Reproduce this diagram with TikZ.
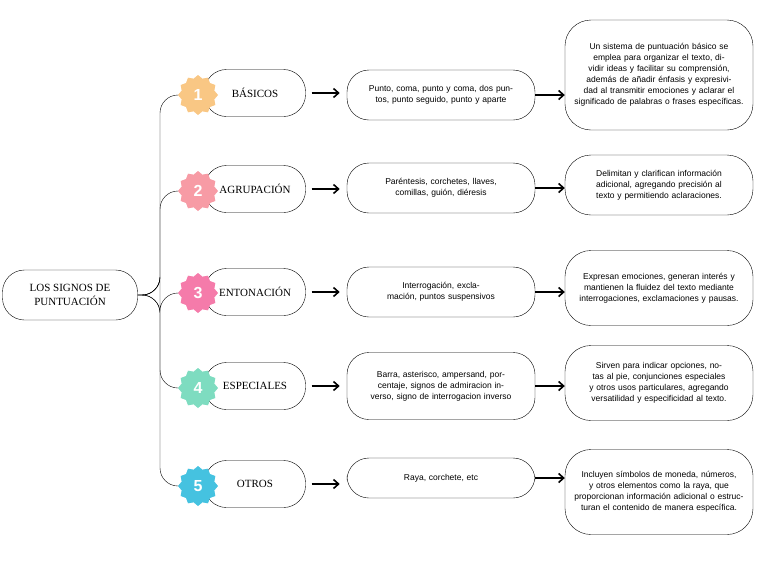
\documentclass[tikz,border=0pt]{standalone}
\usepackage{fontspec}
\setmainfont{Liberation Serif}
\newfontfamily\bodyfont{Liberation Sans}
\usetikzlibrary{shapes.geometric,arrows.meta}
\definecolor{bOne}{HTML}{F9C784}
\definecolor{bTwo}{HTML}{F79BA5}
\definecolor{bThree}{HTML}{F57BAA}
\definecolor{bFour}{HTML}{7EDCC0}
\definecolor{bFive}{HTML}{45C2E0}

\begin{document}
\begin{tikzpicture}[
      x=1pt, y=-1pt,
      cat/.style = {
        draw=black,
        rounded corners=22pt,
        minimum width=101pt,
        minimum height=47pt,
        font=\fontsize{11}{13}\selectfont,
      },
      mid/.style = {
        draw=black,
        rounded corners=22pt,
        minimum width=188pt,
        text width=160pt,
        align=center,
        font=\bodyfont\fontsize{8.5}{11}\selectfont,
      },
      info/.style = {
        draw=black,
        rounded corners=26pt,
        minimum width=188pt,
        text width=170pt,
        align=center,
        font=\bodyfont\fontsize{8.5}{11}\selectfont,
      },
      badge/.style = {
        star, star points=12, star point ratio=1.18,
        minimum size=40pt, inner sep=0pt,
        text=white,
        font=\bodyfont\bfseries\fontsize{16}{16}\selectfont,
      },
      arr/.style = {
        draw=black,
        line width=1.6pt,
        ->, >={Straight Barb[length=5pt,width=9pt]},
      },
    ]
      \useasboundingbox (0,0) rectangle (768,576);
      \node[cat, minimum width=135pt, minimum height=50pt, align=center,
        font=\fontsize{11}{14}\selectfont] (root) at (70,295) {LOS SIGNOS DE\\PUNTUACIÓN};

      \node[cat] (c1) at (255,93) {BÁSICOS};
      \node[cat] (c2) at (255,189) {AGRUPACIÓN};
      \node[cat] (c3) at (255,292) {ENTONACIÓN};
      \node[cat] (c4) at (255,386) {ESPECIALES};
      \node[cat] (c5) at (255,484) {OTROS};

      \node[badge, fill=bOne] (b1) at (198,95) {1};
      \node[badge, fill=bTwo] (b2) at (198,191) {2};
      \node[badge, fill=bThree] (b3) at (198,293) {3};
      \node[badge, fill=bFour] (b4) at (198,388) {4};
      \node[badge, fill=bFive] (b5) at (198,486) {5};

      \node[mid, minimum height=50pt] (m1) at (441,95) {Punto, coma, punto y coma, dos puntos, punto seguido, punto y aparte};
      \node[mid, minimum height=50pt] (m2) at (441,188) {Paréntesis, corchetes, llaves, comillas, guión, diéresis\\[8pt]};
      \node[mid, minimum height=50pt] (m3) at (441,292) {Interrogación, exclamación, puntos suspensivos\\[8pt]};
      \node[mid, minimum height=67pt] (m4) at (441,386) {Barra, asterisco, ampersand, porcentaje, signos de admiracion inverso, signo de interrogacion inverso};
      \node[mid, minimum height=40pt] (m5) at (441,478) {Raya, corchete, etc\\[10pt]};

      \node[info, minimum height=110pt] (i1) at (659,75) {Un sistema de puntuación básico se emplea para organizar el texto, dividir ideas y facilitar su comprensión, además de añadir énfasis y expresividad al transmitir emociones y aclarar el significado de palabras o frases específicas.};
      \node[info, minimum height=60pt] (i2) at (659,185) {Delimitan y clarifican información adicional, agregando precisión al texto y permitiendo aclaraciones.};
      \node[info, minimum height=75pt] (i3) at (659,288) {Expresan emociones, generan interés y mantienen la fluidez del texto mediante interrogaciones, exclamaciones y pausas.};
      \node[info, minimum height=75pt] (i4) at (659,383) {Sirven para indicar opciones, notas al pie, conjunciones especiales y otros usos particulares, agregando versatilidad y especificidad al texto.};
      \node[info, minimum height=85pt] (i5) at (659,492) {Incluyen símbolos de moneda, números, y otros elementos como la raya, que proporcionan información adicional o estructuran el contenido de manera específica.};

      \foreach \n in {1,...,5}{
        \draw[rounded corners=18pt] (root.east) -- (160,295) |- (b\n.west);
        \draw[arr] (c\n.east) ++(6,0) -- ++(28,0);
        \draw[arr] (m\n.east) -- (i\n.west |- m\n.east);
      }

    \end{tikzpicture}
\end{document}
